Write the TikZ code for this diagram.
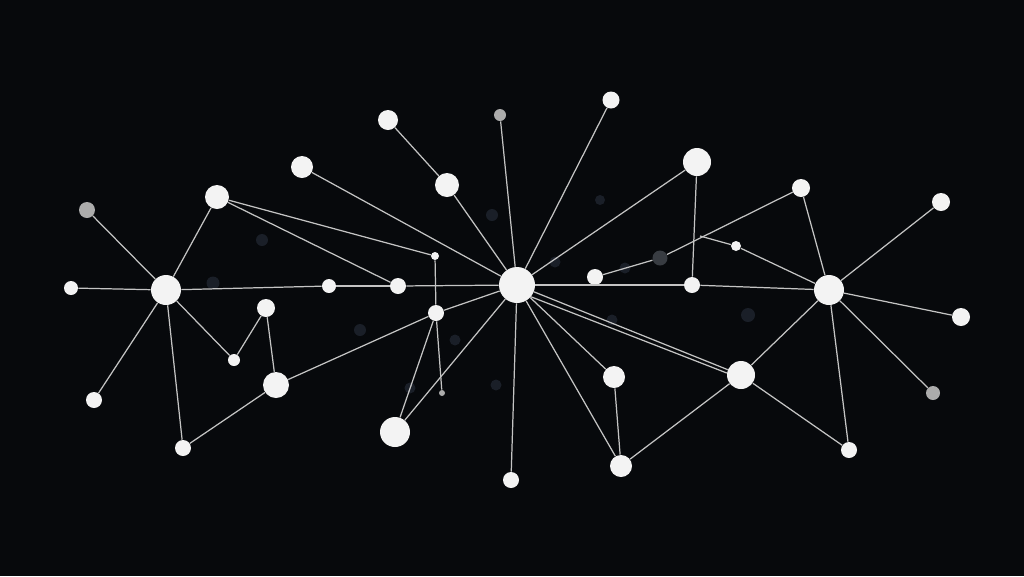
\documentclass[tikz,border=0pt]{standalone}
\usepackage{xcolor}
\usepackage{tikz}
\definecolor{night}{HTML}{07090C}
\definecolor{wire}{HTML}{C4C4C4}
\definecolor{pearl}{HTML}{F3F3F3}
\definecolor{haze}{HTML}{1A1F28}

\begin{document}
\begin{tikzpicture}[x=0.02cm, y=-0.02cm,
  pearl/.style={circle, fill=pearl, draw=none, inner sep=0pt, minimum size=#1},
  ghost/.style={circle, fill=gray!65, draw=none, inner sep=0pt, minimum size=#1},
  blur/.style={circle, fill=haze, draw=none, inner sep=0pt, minimum size=#1},
  wire/.style={draw=wire, line width=0.7pt}]
\fill[night] (0,0) rectangle (1024,576);
\node[blur=0.26cm] (bk1) at (213,283) {};
\node[blur=0.24cm] (bk2) at (262,240) {};
\node[blur=0.24cm] (bk3) at (360,330) {};
\node[blur=0.22cm] (bk4) at (410,388) {};
\node[blur=0.22cm] (bk5) at (496,385) {};
\node[blur=0.24cm] (bk6) at (492,215) {};
\node[blur=0.2cm] (bk7) at (600,200) {};
\node[blur=0.22cm] (bk8) at (555,262) {};
\node[blur=0.28cm] (bk9) at (748,315) {};
\node[blur=0.22cm] (bk10) at (625,268) {};
\node[blur=0.22cm] (bk11) at (455,340) {};
\node[blur=0.22cm] (bk12) at (612,320) {};
\node[pearl=0.72cm] (C) at (517,285) {};
\node[pearl=0.6cm] (L) at (166,290) {};
\node[pearl=0.6cm] (R) at (829,290) {};
\node[ghost=0.32cm] (a) at (87,210) {};
\node[pearl=0.28cm] (b) at (71,288) {};
\node[pearl=0.48cm] (c) at (217,197) {};
\node[pearl=0.32cm] (d) at (94,400) {};
\node[pearl=0.32cm] (e) at (183,448) {};
\node[pearl=0.24cm] (f) at (234,360) {};
\node[pearl=0.36cm] (g) at (266,308) {};
\node[pearl=0.52cm] (h) at (276,385) {};
\node[pearl=0.28cm] (i) at (329,286) {};
\node[pearl=0.44cm] (j) at (302,167) {};
\node[pearl=0.4cm] (k) at (388,120) {};
\node[pearl=0.48cm] (l) at (447,185) {};
\node[ghost=0.24cm] (m) at (500,115) {};
\node[pearl=0.34cm] (n) at (611,100) {};
\node[pearl=0.56cm] (o) at (697,162) {};
\node[pearl=0.36cm] (p) at (801,188) {};
\node[pearl=0.36cm] (q) at (941,202) {};
\node[pearl=0.2cm] (r) at (736,246) {};
\node[pearl=0.32cm] (s) at (595,277) {};
\node[pearl=0.32cm] (t) at (692,285) {};
\node[pearl=0.32cm] (u) at (398,286) {};
\node[pearl=0.32cm] (v) at (436,313) {};
\node[pearl=0.16cm] (w) at (435,256) {};
\node[ghost=0.12cm] (v2) at (442,393) {};
\node[pearl=0.44cm] (x) at (614,377) {};
\node[pearl=0.56cm] (y) at (741,375) {};
\node[pearl=0.6cm] (z) at (395,432) {};
\node[pearl=0.32cm] (aa) at (511,480) {};
\node[pearl=0.44cm] (bb) at (621,466) {};
\node[pearl=0.32cm] (cc) at (849,450) {};
\node[ghost=0.28cm] (dd) at (933,393) {};
\node[pearl=0.36cm] (ee) at (961,317) {};
\node[blur=0.3cm, fill=gray!30!haze] (ps) at (660,258) {};
\coordinate (kink) at (700,236);
\draw[wire] (b) -- (L);
\draw[wire] (L) -- (i);
\draw[wire] (i) -- (u);
\draw[wire] (u) -- (C);
\draw[wire] (C) -- (t);
\draw[wire] (t) -- (R);
\draw[wire] (a) -- (L);
\draw[wire] (L) -- (c);
\draw[wire] (L) -- (d);
\draw[wire] (L) -- (e);
\draw[wire] (L) -- (f);
\draw[wire] (f) -- (g);
\draw[wire] (g) -- (h);
\draw[wire] (h) -- (e);
\draw[wire] (h) -- (v);
\draw[wire] (c) -- (w);
\draw[wire] (c) -- (u);
\draw[wire] (j) -- (C);
\draw[wire] (k) -- (l);
\draw[wire] (l) -- (C);
\draw[wire] (m) -- (C);
\draw[wire] (n) -- (C);
\draw[wire] (o) -- (C);
\draw[wire] (o) -- (t);
\draw[wire] (w) -- (v);
\draw[wire] (v) -- (C);
\draw[wire] (v) -- (z);
\draw[wire] (v) -- (v2);
\draw[wire] (z) -- (C);
\draw[wire] (aa) -- (C);
\draw[wire] (x) -- (C);
\draw[wire] (bb) -- (C);
\draw[wire] (x) -- (bb);
\draw[wire] (bb) -- (y);
\draw[wire] (C) -- (y);
\draw[wire] (C.-40) -- (y.172);
\draw[wire] (y) -- (R);
\draw[wire] (y) -- (cc);
\draw[wire] (p) -- (ps) -- (s);
\draw[wire] (kink) -- (r) -- (R);
\draw[wire] (p) -- (R);
\draw[wire] (q) -- (R);
\draw[wire] (ee) -- (R);
\draw[wire] (dd) -- (R);
\draw[wire] (cc) -- (R);
\end{tikzpicture}
\end{document}
